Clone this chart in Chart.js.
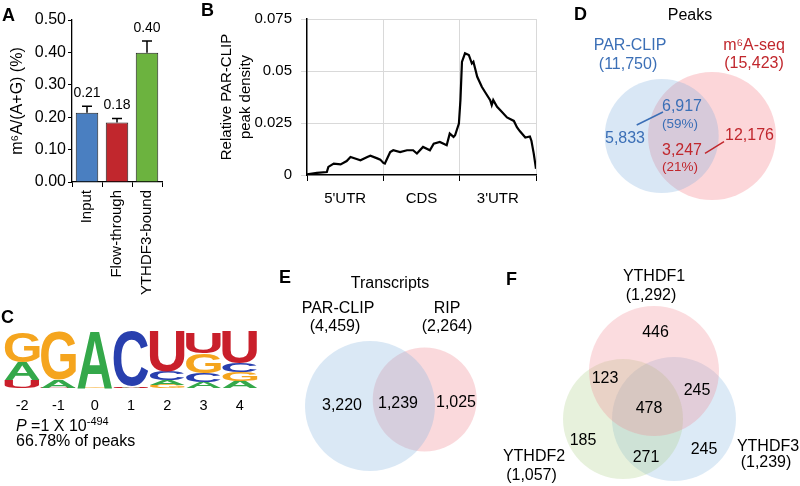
<!DOCTYPE html>
<html lang="en">
<head>
  <meta charset="UTF-8">
  <title>YTHDF3 binding</title>
  <script src="https://cdn.jsdelivr.net/npm/chart.js"></script>
  <style>
    body {
      margin: 0;
      background: #fff;
      font-family: 'Liberation Sans', Arial, sans-serif;
    }

    #fig {
      position: relative;
      width: 800px;
      height: 486px;
      overflow: hidden;
      background: #fff;
    }

    #fig canvas {
      position: absolute;
    }

    .tag {
      position: absolute;
      font-weight: bold;
      font-size: 18px;
      line-height: 18px;
    }

    .note {
      position: absolute;
      font-size: 16px;
      line-height: 16px;
      white-space: nowrap;
    }

    .note sup {
      font-size: 11px;
      line-height: 0;
      vertical-align: 6px;
    }
  </style>
</head>
<body>
<div id="fig">
  <canvas id="chartA" width="170" height="295" style="left:0;top:0"></canvas>
  <canvas id="chartB" width="345" height="230" style="left:200px;top:0"></canvas>
  <canvas id="chartC" width="265" height="120" style="left:0;top:300px"></canvas>
  <canvas id="chartD" width="240" height="230" style="left:560px;top:0"></canvas>
  <canvas id="chartE" width="220" height="226" style="left:280px;top:260px"></canvas>
  <canvas id="chartF" width="300" height="226" style="left:500px;top:260px"></canvas>

  <div class="tag" style="left:2px;top:6px">A</div>
  <div class="tag" style="left:201px;top:1px">B</div>
  <div class="tag" style="left:1px;top:308px">C</div>
  <div class="tag" style="left:574px;top:5px">D</div>
  <div class="tag" style="left:279px;top:268px">E</div>
  <div class="tag" style="left:506px;top:270px">F</div>

  <div class="note" style="left:16px;top:418px"><i>P</i> =1 X 10<sup>-494</sup></div>
  <div class="note" style="left:16px;top:433px">66.78% of peaks</div>
</div>

<script>
  // A: m6A level of the fractions
  const groupLabels = ['Input', 'Flow-through', 'YTHDF3-bound'];
  const m6aLevels = [0.214, 0.184, 0.399];
  const m6aErrors = [0.020, 0.012, 0.036];
  const m6aValueText = ['0.21', '0.18', '0.40'];

  // B: metagene profile (x in regions: 0-1 5'UTR, 1-2 CDS, 2-3 3'UTR)
  const regionLabels = ["5'UTR", 'CDS', "3'UTR"];
  const regionPos = [0, 0.13, 0.26, 0.28, 0.35, 0.44, 0.52, 0.57, 0.65, 0.70,
    0.79, 0.83, 0.92, 0.96, 1.00, 1.02, 1.09, 1.13, 1.22, 1.31,
    1.39, 1.44, 1.52, 1.61, 1.66, 1.74, 1.83, 1.87, 1.92, 1.94,
    1.99, 2.01, 2.03, 2.07, 2.12, 2.16, 2.18, 2.23, 2.29, 2.33,
    2.40, 2.42, 2.44, 2.49, 2.53, 2.62, 2.71, 2.75, 2.79, 2.86,
    2.92, 2.94, 2.97, 3.00];
  const peakDensity = [0.0003, 0.0010, 0.0014, 0.0039, 0.0055, 0.0051, 0.0067, 0.0087, 0.0077, 0.0071,
    0.0087, 0.0093, 0.0080, 0.0074, 0.0058, 0.0055, 0.0110, 0.0119, 0.0110, 0.0119,
    0.0119, 0.0103, 0.0135, 0.0119, 0.0151, 0.0159, 0.0143, 0.0199, 0.0183, 0.0191,
    0.0247, 0.0360, 0.0544, 0.0585, 0.0577, 0.0536, 0.0544, 0.0472, 0.0424, 0.0400,
    0.0360, 0.0336, 0.0360, 0.0328, 0.0312, 0.0277, 0.0260, 0.0230, 0.0210, 0.0180,
    0.0185, 0.0165, 0.0104, 0.0030];

  // C: motif logo heights (bits)
  const logoPositions = ['-2', '-1', '0', '1', '2', '3', '4'];
  const logoA = [0.63, 0.28, 1.97, 0.02, 0.17, 0.22, 0.25];
  const logoC = [0.00, 0.00, 0.00, 1.88, 0.29, 0.29, 0.30];
  const logoG = [1.04, 1.66, 0.02, 0.00, 0.11, 0.69, 0.29];
  const logoU = [0.27, 0.02, 0.00, 0.06, 1.37, 0.72, 1.11];

  // D: peaks
  const peakSetNames = ['PAR-CLIP', 'm\u2076A-seq'];
  const peakSetSizes = [11750, 15423];
  const peakRegionCounts = [5833, 6917, 3247, 12176];
  const peakOverlapShare = ['59%', '21%'];

  // E: transcripts
  const transcriptSetNames = ['PAR-CLIP', 'RIP'];
  const transcriptSetSizes = [4459, 2264];
  const transcriptRegionCounts = [3220, 1239, 1025];

  // F: YTHDF targets (1 only, 1&2, 1&3, all, 2 only, 2&3, 3 only)
  const readerNames = ['YTHDF1', 'YTHDF2', 'YTHDF3'];
  const readerSizes = [1292, 1057, 1239];
  const readerRegionCounts = [446, 123, 245, 478, 185, 271, 245];

  const FONT = '"Liberation Sans", Arial, sans-serif';
  Chart.defaults.font.family = FONT;
  Chart.defaults.color = '#000';
  Chart.defaults.animation = false;
  Chart.defaults.responsive = false;
  Chart.defaults.plugins.legend.display = false;
  Chart.defaults.plugins.tooltip.enabled = false;

  const fmt = n => n.toLocaleString('en-US');
  const clear = 'rgba(0,0,0,0)';

  // ---------- A ----------
  const barExtras = {
    id: 'barExtras',
    afterDatasetsDraw(chart) {
      const ctx = chart.ctx;
      const y = chart.scales.y;
      chart.getDatasetMeta(0).data.forEach((bar, i) => {
        const top = y.getPixelForValue(m6aLevels[i] + m6aErrors[i]);
        ctx.save();
        ctx.strokeStyle = '#000';
        ctx.lineWidth = 1.5;
        ctx.beginPath();
        ctx.moveTo(bar.x, bar.y);
        ctx.lineTo(bar.x, top);
        ctx.moveTo(bar.x - 5, top);
        ctx.lineTo(bar.x + 5, top);
        ctx.stroke();
        ctx.fillStyle = '#000';
        ctx.font = '14px ' + FONT;
        ctx.textAlign = 'center';
        ctx.fillText(m6aValueText[i], bar.x, top - 9);
        ctx.restore();
      });
    }
  };

  new Chart(document.getElementById('chartA'), {
    type: 'bar',
    data: {
      labels: groupLabels,
      datasets: [{
        data: m6aLevels,
        backgroundColor: ['#4a7fc1', '#c1272d', '#6cb33f'],
        borderColor: '#222',
        borderWidth: 1,
        barPercentage: 0.75,
        categoryPercentage: 1
      }]
    },
    options: {
      layout: { padding: { top: 20, right: 8, left: 0, bottom: 0 } },
      scales: {
        x: {
          ticks: { minRotation: 90, maxRotation: 90, padding: 3, font: { size: 15 } },
          grid: { offset: true, drawOnChartArea: false, color: '#000', tickLength: 5 },
          border: { color: '#000', width: 1.3 },
          afterFit: s => { s.height = 113; }
        },
        y: {
          min: 0,
          max: 0.5,
          ticks: { stepSize: 0.1, padding: 2, font: { size: 16 }, callback: v => v.toFixed(2) },
          grid: { drawOnChartArea: false, color: '#000', tickLength: 4 },
          border: { color: '#000', width: 1.3 },
          title: { display: true, text: 'm\u2076A/(A+G) (%)', font: { size: 16 }, padding: { top: 8, bottom: 0 } },
          afterFit: s => { s.width = 72; }
        }
      }
    },
    plugins: [barExtras]
  });

  // ---------- B ----------
  new Chart(document.getElementById('chartB'), {
    type: 'scatter',
    data: {
      datasets: [{
        data: regionPos.map((x, i) => ({ x, y: peakDensity[i] })),
        showLine: true,
        borderColor: '#000',
        borderWidth: 2.2,
        pointRadius: 0,
        tension: 0
      }]
    },
    options: {
      layout: { padding: { top: 19, right: 9, left: 0, bottom: 0 } },
      scales: {
        x: {
          type: 'linear',
          min: 0,
          max: 3,
          ticks: {
            stepSize: 0.5,
            autoSkip: false,
            maxRotation: 0,
            padding: 9,
            font: { size: 15 },
            callback: v => (Math.abs(v % 1 - 0.5) < 1e-6 ? regionLabels[Math.floor(v)] : '')
          },
          grid: {
            color: c => (c.tick && c.tick.value % 1 === 0 && c.tick.value > 0 ? '#d9d9d9' : clear),
            tickColor: c => (c.tick && c.tick.value % 1 === 0 ? '#000' : clear),
            tickLength: 6
          },
          border: { color: '#000', width: 1.5 },
          afterFit: s => { s.height = 55; }
        },
        y: {
          min: 0,
          max: 0.075,
          ticks: { stepSize: 0.025, padding: 9, font: { size: 15 }, callback: v => String(+v.toFixed(3)) },
          grid: {
            color: c => (c.tick && c.tick.value > 0 ? '#d9d9d9' : clear),
            tickColor: '#d9d9d9',
            tickLength: 6
          },
          border: { color: '#000', width: 1.5 },
          title: {
            display: true,
            text: ['Relative PAR-CLIP', 'peak density'],
            font: { size: 15, lineHeight: 1.3 },
            padding: { top: 17, bottom: 0 }
          },
          afterFit: s => { s.width = 107; }
        }
      }
    }
  });

  // ---------- C ----------
  const letterColors = { A: '#34a84a', C: '#283fae', G: '#f5a51e', U: '#c91f2b' };
  const letterHeights = { A: logoA, C: logoC, G: logoG, U: logoU };
  const ranked = logoPositions.map((_, i) =>
    Object.keys(letterHeights)
      .map(l => ({ l, v: letterHeights[l][i] }))
      .sort((a, b) => a.v - b.v));

  const logoDatasets = [0, 1, 2, 3].map(k => ({
    data: ranked.map(col => col[k].v),
    letters: ranked.map(col => col[k].l),
    backgroundColor: clear,
    borderWidth: 0,
    barPercentage: 1,
    categoryPercentage: 0.96
  }));

  const logoLetters = {
    id: 'logoLetters',
    afterDatasetsDraw(chart) {
      const ctx = chart.ctx;
      ctx.save();
      ctx.font = 'bold 100px ' + FONT;
      ctx.textAlign = 'left';
      ctx.textBaseline = 'alphabetic';
      chart.data.datasets.forEach((ds, di) => {
        chart.getDatasetMeta(di).data.forEach((bar, i) => {
          const p = bar.getProps(['x', 'y', 'base', 'width'], true);
          const h = p.base - p.y;
          if (h < 0.4) return;
          const letter = ds.letters[i];
          const m = ctx.measureText(letter);
          const gw = m.actualBoundingBoxLeft + m.actualBoundingBoxRight;
          const gh = m.actualBoundingBoxAscent + m.actualBoundingBoxDescent;
          ctx.save();
          ctx.translate(p.x - p.width / 2, p.y);
          ctx.scale(p.width / gw, h / gh);
          ctx.fillStyle = letterColors[letter];
          ctx.fillText(letter, m.actualBoundingBoxLeft, m.actualBoundingBoxAscent);
          ctx.restore();
        });
      });
      ctx.restore();
    }
  };

  new Chart(document.getElementById('chartC'), {
    type: 'bar',
    data: { labels: logoPositions, datasets: logoDatasets },
    options: {
      layout: { padding: { top: 30, left: 4, right: 7, bottom: 0 } },
      scales: {
        x: {
          stacked: true,
          ticks: { padding: 9, font: { size: 14.5 } },
          grid: { display: false, drawTicks: false },
          border: { display: false },
          afterFit: s => { s.height = 31.7; }
        },
        y: { stacked: true, min: 0, max: 2, display: false }
      }
    },
    plugins: [logoLetters]
  });

  // ---------- D, E, F venn diagrams ----------
  function vennChart(id, box, circles, texts, links) {
    const labelsPlugin = {
      id: 'vennLabels',
      afterDatasetsDraw(chart) {
        const ctx = chart.ctx;
        const sx = chart.scales.x;
        const sy = chart.scales.y;
        ctx.save();
        (links || []).forEach(k => {
          ctx.strokeStyle = k.c;
          ctx.lineWidth = 1.5;
          ctx.beginPath();
          ctx.moveTo(sx.getPixelForValue(k.x1), sy.getPixelForValue(k.y1));
          ctx.lineTo(sx.getPixelForValue(k.x2), sy.getPixelForValue(k.y2));
          ctx.stroke();
        });
        ctx.textAlign = 'center';
        ctx.textBaseline = 'alphabetic';
        texts.forEach(t => {
          ctx.font = (t.s || 16) + 'px ' + FONT;
          ctx.fillStyle = t.c || '#000';
          ctx.fillText(t.t, sx.getPixelForValue(t.x), sy.getPixelForValue(t.y));
        });
        ctx.restore();
      }
    };

    const radius = c => ctx => {
      const sx = ctx.chart.scales.x;
      return sx.getPixelForValue(c.x + c.r) - sx.getPixelForValue(c.x);
    };

    new Chart(document.getElementById(id), {
      type: 'scatter',
      data: {
        datasets: circles.map(c => ({
          data: [{ x: c.x, y: c.y }],
          backgroundColor: c.fill,
          borderWidth: 0,
          pointRadius: radius(c),
          pointHoverRadius: radius(c),
          clip: false
        }))
      },
      options: {
        events: [],
        layout: { padding: 0 },
        scales: {
          x: { type: 'linear', min: box.left, max: box.left + box.w, display: false },
          y: { type: 'linear', min: box.top, max: box.top + box.h, reverse: true, display: false }
        }
      },
      plugins: [labelsPlugin]
    });
  }

  const blueText = '#3b6fb6';
  const redText = '#c1272d';

  vennChart('chartD', { left: 560, top: 0, w: 240, h: 230 },
    [
      { x: 661.7, y: 136, r: 57, fill: 'rgba(120,170,220,0.28)' },
      { x: 712, y: 136, r: 64, fill: 'rgba(245,120,130,0.30)' }
    ],
    [
      { t: 'Peaks', x: 690, y: 19.5 },
      { t: peakSetNames[0], x: 630, y: 50, c: blueText },
      { t: '(' + fmt(peakSetSizes[0]) + ')', x: 628, y: 68.5, c: blueText },
      { t: peakSetNames[1], x: 754, y: 49.5, c: redText },
      { t: '(' + fmt(peakSetSizes[1]) + ')', x: 754, y: 67.5, c: redText },
      { t: fmt(peakRegionCounts[1]), x: 682, y: 111, c: blueText },
      { t: '(' + peakOverlapShare[0] + ')', x: 680, y: 128, c: blueText, s: 13.5 },
      { t: fmt(peakRegionCounts[0]), x: 625, y: 142.5, c: blueText },
      { t: fmt(peakRegionCounts[2]), x: 682, y: 154.5, c: redText },
      { t: '(' + peakOverlapShare[1] + ')', x: 680, y: 171, c: redText, s: 13.5 },
      { t: fmt(peakRegionCounts[3]), x: 749.5, y: 140, c: redText }
    ],
    [
      { x1: 636.7, y1: 125, x2: 663, y2: 112, c: blueText },
      { x1: 705, y1: 153.3, x2: 724, y2: 141.7, c: redText }
    ]);

  vennChart('chartE', { left: 280, top: 260, w: 220, h: 226 },
    [
      { x: 370, y: 406, r: 65, fill: 'rgba(140,185,225,0.32)' },
      { x: 424.7, y: 399.5, r: 52, fill: 'rgba(240,130,140,0.30)' }
    ],
    [
      { t: 'Transcripts', x: 390, y: 288 },
      { t: transcriptSetNames[0], x: 338, y: 313.3 },
      { t: '(' + fmt(transcriptSetSizes[0]) + ')', x: 335, y: 330.6 },
      { t: transcriptSetNames[1], x: 447, y: 313.3 },
      { t: '(' + fmt(transcriptSetSizes[1]) + ')', x: 447, y: 330.6 },
      { t: fmt(transcriptRegionCounts[0]), x: 342, y: 409.8 },
      { t: fmt(transcriptRegionCounts[1]), x: 398, y: 408 },
      { t: fmt(transcriptRegionCounts[2]), x: 456, y: 406.5 }
    ]);

  vennChart('chartF', { left: 500, top: 260, w: 300, h: 226 },
    [
      { x: 654, y: 371, r: 65, fill: 'rgba(240,130,140,0.28)' },
      { x: 623, y: 419, r: 60, fill: 'rgba(170,205,130,0.28)' },
      { x: 674, y: 419, r: 62, fill: 'rgba(140,185,225,0.30)' }
    ],
    [
      { t: readerNames[0], x: 654, y: 280.7 },
      { t: '(' + fmt(readerSizes[0]) + ')', x: 651, y: 300 },
      { t: readerNames[1], x: 534, y: 460.7 },
      { t: '(' + fmt(readerSizes[1]) + ')', x: 531.5, y: 480 },
      { t: readerNames[2], x: 768, y: 450.7 },
      { t: '(' + fmt(readerSizes[2]) + ')', x: 766, y: 467.3 },
      { t: fmt(readerRegionCounts[0]), x: 655.5, y: 337.3 },
      { t: fmt(readerRegionCounts[1]), x: 605, y: 382.7 },
      { t: fmt(readerRegionCounts[2]), x: 697, y: 395 },
      { t: fmt(readerRegionCounts[3]), x: 649, y: 412.7 },
      { t: fmt(readerRegionCounts[4]), x: 583, y: 445 },
      { t: fmt(readerRegionCounts[5]), x: 646, y: 461.7 },
      { t: fmt(readerRegionCounts[6]), x: 704, y: 454 }
    ]);
</script>
</body>
</html>
